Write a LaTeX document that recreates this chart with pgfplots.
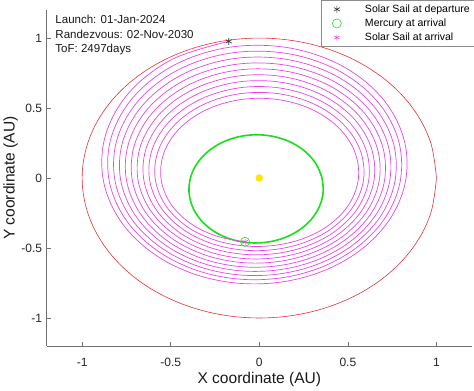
\documentclass[border=0pt]{standalone}
\usepackage{pgfplots}
\usepackage{pgfplotstable}
\pgfplotsset{compat=1.18}
\usepackage{fontspec}
\setmainfont{Liberation Sans}
\definecolor{earth}{rgb}{0.90,0.20,0.22}
\definecolor{sail}{rgb}{0.90,0.28,0.90}
\definecolor{merc}{rgb}{0.10,0.88,0.10}
\definecolor{sun}{rgb}{1.0,0.90,0.0}
\definecolor{axgray}{rgb}{0.45,0.45,0.45}
% orbits given as (angle in degrees, radius in AU)
\pgfplotstableread[row sep=\\]{a r\\
0 1\\ 15 1\\ 30 1\\ 45 1\\ 60 1\\ 75 1\\ 90 1\\ 105 1\\ 120 1\\ 135 1\\ 150 1\\ 165 1\\
180 1\\ 195 1\\ 210 1\\ 225 1\\ 240 1\\ 255 1\\ 270 1\\ 285 1\\ 300 1\\ 315 1\\ 330 1\\ 345 1\\ 360 1\\
}\earthtab
\pgfplotstableread[row sep=\\]{a r\\
0 0.3543\\ 15 0.3381\\ 30 0.3251\\ 45 0.3157\\ 60 0.3098\\ 75 0.3075\\ 90 0.3088\\ 105 0.3137\\
120 0.3222\\ 135 0.3343\\ 150 0.3497\\ 165 0.3681\\ 180 0.3887\\ 195 0.4103\\ 210 0.4312\\ 225 0.4490\\
240 0.4614\\ 255 0.4666\\ 270 0.4636\\ 285 0.4529\\ 300 0.4363\\ 315 0.4160\\ 330 0.3944\\ 345 0.3734\\ 360 0.3543\\
}\merctab
\pgfplotstableread[row sep=\\]{a r\\
100 0.9915\\ 120 0.9805\\ 140 0.9558\\ 160 0.9217\\ 180 0.8827\\ 200 0.8438\\ 220 0.8086\\ 240 0.7805\\ 260 0.7616\\ 280 0.7532\\ 300 0.7563\\ 320 0.7709\\ 340 0.7959\\ 0 0.8284\\ 20 0.8646\\ 40 0.8994\\ 60 0.9278\\ 80 0.9452\\
100 0.9494\\ 120 0.9397\\ 140 0.9175\\ 160 0.8864\\ 180 0.8500\\ 200 0.8127\\ 220 0.7783\\ 240 0.7504\\ 260 0.7317\\ 280 0.7238\\ 300 0.7277\\ 320 0.7428\\ 340 0.7675\\ 0 0.7985\\ 20 0.8320\\ 40 0.8633\\ 60 0.8883\\ 80 0.9035\\
100 0.9072\\ 120 0.8988\\ 140 0.8792\\ 160 0.8511\\ 180 0.8172\\ 200 0.7816\\ 220 0.7480\\ 240 0.7203\\ 260 0.7018\\ 280 0.6944\\ 300 0.6990\\ 320 0.7147\\ 340 0.7392\\ 0 0.7687\\ 20 0.7994\\ 40 0.8272\\ 60 0.8489\\ 80 0.8619\\
100 0.8651\\ 120 0.8580\\ 140 0.8409\\ 160 0.8158\\ 180 0.7845\\ 200 0.7506\\ 220 0.7177\\ 240 0.6903\\ 260 0.6719\\ 280 0.6650\\ 300 0.6704\\ 320 0.6866\\ 340 0.7108\\ 0 0.7388\\ 20 0.7668\\ 40 0.7911\\ 60 0.8095\\ 80 0.8202\\
100 0.8229\\ 120 0.8171\\ 140 0.8026\\ 160 0.7804\\ 180 0.7518\\ 200 0.7195\\ 220 0.6874\\ 240 0.6602\\ 260 0.6420\\ 280 0.6356\\ 300 0.6417\\ 320 0.6585\\ 340 0.6824\\ 0 0.7089\\ 20 0.7341\\ 40 0.7550\\ 60 0.7700\\ 80 0.7786\\
100 0.7808\\ 120 0.7762\\ 140 0.7643\\ 160 0.7451\\ 180 0.7190\\ 200 0.6885\\ 220 0.6571\\ 240 0.6301\\ 260 0.6122\\ 280 0.6062\\ 300 0.6131\\ 320 0.6304\\ 340 0.6540\\ 0 0.6791\\ 20 0.7015\\ 40 0.7189\\ 60 0.7306\\ 80 0.7369\\
100 0.7386\\ 120 0.7354\\ 140 0.7260\\ 160 0.7098\\ 180 0.6863\\ 200 0.6574\\ 220 0.6268\\ 240 0.6000\\ 260 0.5823\\ 280 0.5769\\ 300 0.5844\\ 320 0.6023\\ 340 0.6257\\ 0 0.6492\\ 20 0.6689\\ 40 0.6828\\ 60 0.6912\\ 80 0.6953\\
100 0.6965\\ 120 0.6945\\ 140 0.6877\\ 160 0.6745\\ 180 0.6535\\ 200 0.6263\\ 220 0.5965\\ 240 0.5699\\ 260 0.5524\\ 280 0.5475\\ 300 0.5558\\ 320 0.5742\\ 340 0.5973\\ 0 0.6193\\ 20 0.6363\\ 40 0.6466\\ 60 0.6517\\ 80 0.6536\\
100 0.6543\\ 120 0.6536\\ 140 0.6494\\ 160 0.6392\\ 180 0.6208\\ 200 0.5953\\ 220 0.5662\\ 240 0.5399\\ 260 0.5225\\ 280 0.5181\\ 300 0.5271\\ 320 0.5461\\ 340 0.5689\\ 0 0.5894\\ 20 0.6037\\ 40 0.6105\\ 60 0.6123\\ 80 0.6120\\
100 0.6122\\ 120 0.6128\\ 140 0.6110\\ 160 0.6038\\ 180 0.5881\\ 200 0.5642\\ 220 0.5359\\ 240 0.5098\\ 260 0.4926\\ 280 0.4887\\ 300 0.4985\\ 320 0.5180\\ 340 0.5406\\ 0 0.5596\\ 20 0.5710\\ 40 0.5744\\ 60 0.5729\\ 80 0.5703\\
100 0.5700\\ 120 0.5719\\ 140 0.5727\\ 160 0.5685\\ 180 0.5553\\ 200 0.5331\\ 220 0.5056\\ 240 0.4797\\ 260 0.4627\\
}\sailtab
\begin{document}
\begin{tikzpicture}
\begin{axis}[
  scale only axis, width=424pt, height=335pt,
  xmin=-1.2, xmax=1.2, ymin=-1.2, ymax=1.2,
  axis x line*=bottom, axis y line*=left,
  xtick={-1,-0.5,0,0.5,1}, ytick={-1,-0.5,0,0.5,1},
  tick align=inside, major tick length=4pt,
  every tick/.style={axgray, line width=0.5pt},
  axis line style={axgray, line width=0.6pt},
  /pgf/number format/assume math mode=true,
  tick label style={font=\fontsize{12}{14}\selectfont, text=black!85},
  xticklabel style={yshift=-9pt},
  yticklabel style={xshift=-1pt},
  xlabel={X coordinate (AU)}, ylabel={Y coordinate (AU)},
  label style={font=\fontsize{15.5}{18}\selectfont, text=black!90},
  xlabel style={at={(axis description cs:0.5,-0.101)}, anchor=center},
  ylabel style={at={(axis description cs:-0.085,0.5)}, anchor=center},
  legend cell align=left,
  legend style={at={(axis description cs:1.005,1.03)}, anchor=north east, draw=black!45, fill=white,
    font=\fontsize{10.5}{12}\selectfont, inner xsep=2pt, inner ysep=2.5pt, row sep=1pt, line width=0.5pt},
  legend image code/.code={\path[draw=none, fill=none] (0pt,-3pt) rectangle (40pt,3pt);
    \draw[mark repeat=2, mark phase=2, #1] plot coordinates {(0pt,0pt)(14pt,0pt)(40pt,0pt)};},
]
\addplot[earth, line width=0.6pt, smooth, tension=0.6, forget plot]
  table[x expr={\thisrow{r}*cos(\thisrow{a})}, y expr={\thisrow{r}*sin(\thisrow{a})}] {\earthtab};
\addplot[merc, line width=1.6pt, smooth, tension=0.6, forget plot]
  table[x expr={\thisrow{r}*cos(\thisrow{a})}, y expr={\thisrow{r}*sin(\thisrow{a})}] {\merctab};
\addplot[sail, line width=0.7pt, smooth, tension=0.6, forget plot]
  table[x expr={\thisrow{r}*cos(\thisrow{a})}, y expr={\thisrow{r}*sin(\thisrow{a})}] {\sailtab};
% Sun
\addplot[only marks, mark=*, mark size=3.5pt, mark options={draw=sun, fill=sun}, forget plot] coordinates {(0,0)};
% markers with legend
\addplot[only marks, mark=asterisk, mark size=3.5pt, black!80, mark options={line width=0.6pt}] coordinates {(-0.1722,0.9764)};
\addplot[only marks, mark=o, mark size=4.5pt, merc, mark options={line width=0.6pt}] coordinates {(-0.0803,-0.4557)};
\addplot[only marks, mark=asterisk, mark size=3pt, sail, mark options={line width=0.6pt}] coordinates {(-0.0803,-0.4557)};
\legend{Solar Sail at departure, Mercury at arrival, Solar Sail at arrival}
\node[anchor=north west, align=left, inner sep=0pt, font=\fontsize{11.5}{14.5}\selectfont, text=black!90]
  at (axis description cs:0.02,0.985) {Launch: 01-Jan-2024\\Randezvous: 02-Nov-2030\\ToF: 2497days};
\end{axis}
\end{tikzpicture}
\end{document}
